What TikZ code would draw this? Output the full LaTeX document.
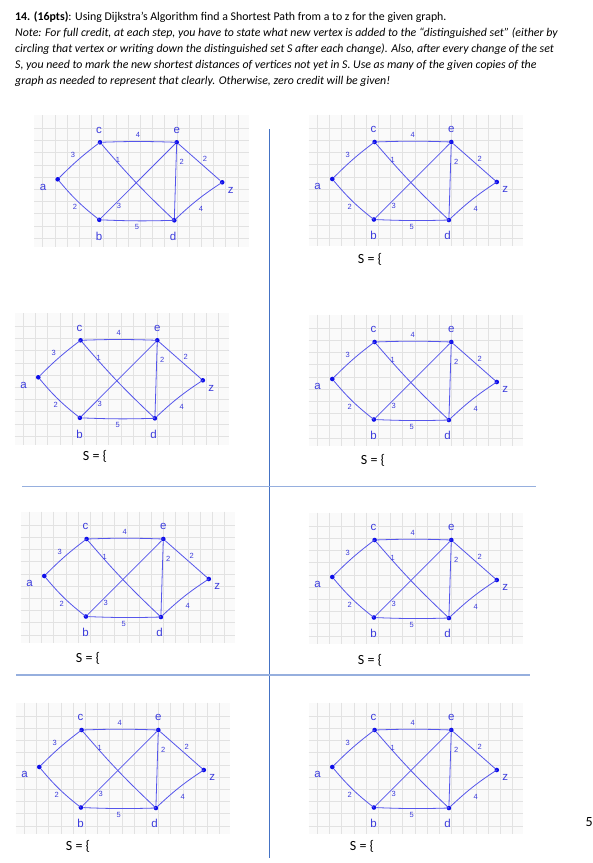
\documentclass[tikz,border=0pt]{standalone}
\usepackage{fontspec}
\setmainfont{Carlito}
\newfontfamily\handfont{Liberation Sans}
\definecolor{edgeblue}{RGB}{85,85,235}
\definecolor{dotblue}{RGB}{15,15,235}
\definecolor{labblue}{RGB}{60,60,220}
\definecolor{divlight}{RGB}{150,175,222}
\definecolor{divdark}{RGB}{68,114,196}
\definecolor{gridc}{RGB}{226,226,226}
\definecolor{gridbg}{RGB}{250,250,250}
\tikzset{
  vdot/.style={circle,fill=dotblue,inner sep=0pt,minimum size=4.6pt},
  gedge/.style={draw=edgeblue,line width=0.8pt},
  gridline/.style={draw=gridc,line width=0.6pt},
  vlab/.style={text=labblue,font=\handfont\fontsize{11.5}{11.5}\selectfont,inner sep=0pt},
  wlab/.style={text=labblue,font=\handfont\fontsize{7.5}{7.5}\selectfont,inner sep=0pt},
  setlab/.style={font=\fontsize{14}{14}\selectfont,inner sep=0pt},
  hdr/.style={anchor=base west,inner sep=0pt,font=\fontsize{11.85}{14}\selectfont},
  divh/.style={draw=divlight,line width=1.4pt},
  divv/.style={draw=divdark,line width=1.2pt}
}
\newcommand{\dgraph}[3]{%
\begin{scope}[shift={(#2,#3)},name prefix=#1-]
  \fill[gridbg] (-23.7,-64.3) rectangle (191,67.3);
  \foreach \k in {0,...,16} \draw[gridline] ({-15+12.2*\k},-64.3) -- ({-15+12.2*\k},67.3);
  \foreach \k in {0,...,9} \draw[gridline] (-23.7,{-51+12.2*\k}) -- (191,{-51+12.2*\k});
  \node[vdot] (a) at (0,0) {};
  \node[vdot] (c) at (42.3,-37) {};
  \node[vdot] (e) at (119,-37) {};
  \node[vdot] (z) at (164.5,3) {};
  \node[vdot] (b) at (41.6,40.5) {};
  \node[vdot] (d) at (116.6,41) {};
  \draw[gedge] (a) to[bend left=4] (c);
  \draw[gedge] (c) to[bend left=2] (e);
  \draw[gedge] (c) to[bend right=3] (d);
  \draw[gedge] (b) -- (e);
  \draw[gedge] (e) -- (d);
  \draw[gedge] (e) -- (z);
  \draw[gedge] (d) to[bend left=5] (z);
  \draw[gedge] (b) to[bend right=2] (d);
  \draw[gedge] (a) to[bend right=6] (b);
  \node[vlab] (la) at (-14.7,7.7) {a};
  \node[vlab] (lc) at (41.3,-49.3) {c};
  \node[vlab] (le) at (119,-49.3) {e};
  \node[vlab] (lz) at (173,10.7) {z};
  \node[vlab] (lb) at (41.3,56.7) {b};
  \node[vlab] (ld) at (115.3,56.7) {d};
  \node[wlab] (wac) at (15.3,-24.3) {3};
  \node[wlab] (wce) at (80.3,-44.3) {4};
  \node[wlab] (wcd) at (60.3,-19.3) {1};
  \node[wlab] (wed) at (124,-17.3) {2};
  \node[wlab] (wez) at (147.3,-20.3) {2};
  \node[wlab] (wab) at (17.3,27.7) {2};
  \node[wlab] (wbe) at (61.3,26.7) {3};
  \node[wlab] (wbd) at (79.3,47.7) {5};
  \node[wlab] (wdz) at (143.3,29.7) {4};
\end{scope}}
\begin{document}
\begin{tikzpicture}[x=1pt,y=-1pt]
\useasboundingbox (0,0) rectangle (593,863);
\fill[white] (0,0) rectangle (593,863);
% header
\node[hdr] (h1) at (15,20.5) {\textbf{14. (16pts)}: Using Dijkstra’s Algorithm find a Shortest Path from a to z for the given graph.};
\node[hdr] (h2) at (15,36.5) {\itshape Note: For full credit, at each step, you have to state what new vertex is added to the “distinguished set” (either by};
\node[hdr] (h3) at (15,52.5) {\itshape circling that vertex or writing down the distinguished set S after each change). Also, after every change of the set};
\node[hdr] (h4) at (15,68.5) {\itshape S, you need to mark the new shortest distances of vertices not yet in S. Use as many of the given copies of the};
\node[hdr] (h5) at (15,84.5) {\itshape graph as needed to represent that clearly. Otherwise, zero credit will be given!};
% dividers
\coordinate (vt) at (269.3,129);
\coordinate (vb) at (269.3,858);
\draw[divv] (vt) -- (vb);
\coordinate (h1l) at (22,486.5);
\coordinate (h1r) at (536,486.5);
\draw[divh] (h1l) -- (h1r);
\coordinate (h2l) at (16,675);
\coordinate (h2r) at (530,675);
\draw[divh] (h2l) -- (h2r);
% graphs
\dgraph{g1}{57.7}{179.3}
\dgraph{g2}{332.3}{179}
\dgraph{g3}{38.3}{377.3}
\dgraph{g4}{332.3}{379}
\dgraph{g5}{44.3}{576}
\dgraph{g6}{332.3}{577}
\dgraph{g7}{39.3}{767}
\dgraph{g8}{332.3}{767}
% set labels
\node[setlab] (s2) at (370,259) {S = \{};
\node[setlab] (s3) at (95,456) {S = \{};
\node[setlab] (s4) at (373,460) {S = \{};
\node[setlab] (s5) at (88,658) {S = \{};
\node[setlab] (s6) at (370,660) {S = \{};
\node[setlab] (s7) at (78,846) {S = \{};
\node[setlab] (s8) at (362,846) {S = \{};
\node[setlab,anchor=east] (stray) at (593,821.7) {5};
\end{tikzpicture}
\end{document}
